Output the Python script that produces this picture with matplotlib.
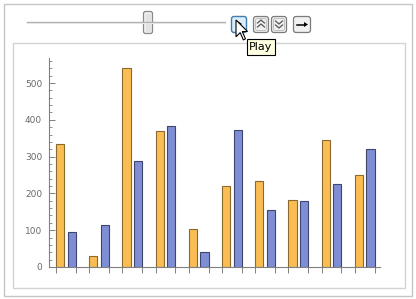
import numpy as np
import matplotlib
matplotlib.use("Agg")
import matplotlib.pyplot as plt
from matplotlib.patches import Rectangle, FancyBboxPatch, Polygon

# data
groups = np.arange(10)
series_a = [333, 29, 540, 369, 102, 219, 233, 183, 344, 249]
series_b = [94, 113, 287, 382, 40, 371, 156, 180, 225, 320]
y_ticks = [0, 100, 200, 300, 400, 500]

col_a = "#FABD53"
col_b = "#7F8DD4"
edge_a = "#8C6A2E"
edge_b = "#3E4670"

W, H = 416, 299
fig = plt.figure(figsize=(W / 100, H / 100), dpi=100)

# background layer in pixel coordinates (y down)
bg = fig.add_axes([0, 0, 1, 1])
bg.set_xlim(0, W)
bg.set_ylim(H, 0)
bg.axis("off")

def rect(x0, y0, x1, y1, **kw):
    bg.add_patch(Rectangle((x0, y0), x1 - x0, y1 - y0, **kw))

def rbox(x0, y0, x1, y1, r=2.5, **kw):
    bg.add_patch(FancyBboxPatch((x0, y0), x1 - x0, y1 - y0,
                                boxstyle="round,pad=0,rounding_size=%s" % r, **kw))

# panels
rect(3.5, 3.5, 411.5, 295.5, fc="white", ec="#c6c6c6", lw=1.0)
rect(12.5, 42.5, 404.5, 287.5, fc="white", ec="#d4d4d4", lw=1.0)

# slider
bg.plot([27, 225], [22, 22], color="#b0b0b0", lw=1.0)
bg.plot([27, 225], [23, 23], color="#e4e4e4", lw=0.8)
rbox(143.5, 11.5, 152.5, 33.5, r=2, fc="#efefef", ec="#8a8a8a", lw=0.9)
rect(145.5, 13.5, 150.5, 31.5, fc="#e2e2e2", ec="none")

# buttons
rbox(231.5, 16.5, 246.5, 32.5, fc="#dcecf8", ec="#3d7eb5", lw=1.0)
bg.add_patch(Polygon([[236, 20], [236, 28], [242, 24]], closed=True, fc="black", ec="none"))
for x0 in (253.5, 271.5):
    rbox(x0, 16.5, x0 + 15, 32.5, fc="#f0f0f0", ec="#7c7c7c", lw=0.9)
    rbox(x0 + 2, 18.5, x0 + 13, 30.5, r=2, fc="none", ec="#b8b8b8", lw=0.6)
cx = 261
bg.plot([cx - 3.5, cx, cx + 3.5], [23, 20, 23], color="#555", lw=0.9)
bg.plot([cx - 3.5, cx, cx + 3.5], [27, 24, 27], color="#555", lw=0.9)
cx = 279
bg.plot([cx - 3.5, cx, cx + 3.5], [21, 24, 21], color="#555", lw=0.9)
bg.plot([cx - 3.5, cx, cx + 3.5], [25, 28, 25], color="#555", lw=0.9)
rbox(293.5, 16.5, 310.5, 32.5, fc="#f0f0f0", ec="#7c7c7c", lw=0.9)
bg.plot([296.5, 305], [24.5, 24.5], color="black", lw=1.1)
bg.add_patch(Polygon([[304, 22], [304, 27], [308, 24.5]], closed=True, fc="black", ec="none"))

# tooltip
rect(246.5, 38.5, 274.5, 54.5, fc="#ffffe1", ec="black", lw=0.8)
bg.text(260.5, 46.5, "Play", ha="center", va="center", fontsize=8, color="black")

# cursor
cur = np.array([[0, 0], [0, 16], [4, 12], [7, 19], [9, 18], [6, 11], [11, 11]]) * 1.05
cur = cur + [236, 20]
bg.add_patch(Polygon(cur, closed=True, fc="white", ec="black", lw=0.8, zorder=10))

# chart axes
x0p, x1p, y0p, y1p = 49, 380, 267, 58
ax = fig.add_axes([x0p / W, (H - y0p) / H, (x1p - x0p) / W, (y0p - y1p) / H])
ax.patch.set_alpha(0)
bw = 0.25
gap = 0.1
ax.bar(groups, series_a, bw, align="edge", color=col_a, edgecolor=edge_a, linewidth=0.8)
ax.bar(groups + bw + gap, series_b, bw, align="edge", color=col_b, edgecolor=edge_b, linewidth=0.8)

ax.set_xlim(-0.21, 9.76)
ax.set_ylim(0, 568)
for s in ("top", "right"):
    ax.spines[s].set_visible(False)
for s in ("left", "bottom"):
    ax.spines[s].set_color("#808080")
    ax.spines[s].set_linewidth(0.8)

ax.set_yticks(y_ticks)
ax.set_yticks(np.arange(0, 568, 20), minor=True)
ax.tick_params(axis="y", which="major", direction="in", length=4, width=0.7,
               color="#808080", labelsize=6.5, labelcolor="#6a6a6a", pad=5)
ax.tick_params(axis="y", which="minor", direction="in", length=2.5, width=0.6,
               color="#808080")
edges = np.sort(np.concatenate([groups, groups + 2 * bw + gap]))
ax.set_xticks(edges)
ax.set_xticklabels([])
ax.tick_params(axis="x", direction="out", length=4, width=0.7, color="#808080")

fig.savefig("out.png", dpi=100)
